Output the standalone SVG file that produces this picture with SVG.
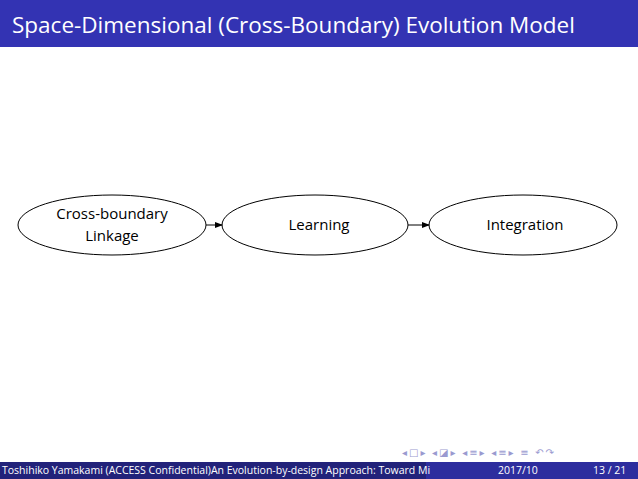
<svg xmlns="http://www.w3.org/2000/svg" width="638" height="479" viewBox="0 0 638 479">
<style>
text{font-family:"Open Sans","DejaVu Sans",sans-serif}
.n{fill:#fff;stroke:#000;stroke-width:1}
.l{font-size:15px;fill:#000;text-anchor:middle}
.e{stroke:#000;stroke-width:1;fill:none;marker-end:url(#a)}
.f{font-size:10.5px;fill:#fff}
</style>
<defs><marker id="a" markerWidth="8" markerHeight="6" refX="7" refY="3" orient="auto" markerUnits="userSpaceOnUse"><path d="M0,0L8,3L0,6z" fill="#000"/></marker></defs>
<rect width="638" height="479" fill="#fff"/>
<rect width="638" height="47" fill="#3333b3"/>
<text x="12" y="33" font-size="22.5" fill="#fff">Space-Dimensional (Cross-Boundary) Evolution Model</text>
<g id="n1"><ellipse class="n" cx="112" cy="225" rx="94" ry="30"/><text class="l" x="112" y="219">Cross-boundary</text><text class="l" x="112" y="241">Linkage</text></g>
<g id="n2"><ellipse class="n" cx="315" cy="225" rx="93" ry="30"/><text class="l" x="319" y="230">Learning</text></g>
<g id="n3"><ellipse class="n" cx="523" cy="225" rx="94" ry="30"/><text class="l" x="525" y="230">Integration</text></g>
<g id="edges"><path class="e" d="M206,225H222"/><path class="e" d="M408,225H429"/></g>
<g fill="#9a9ad0" font-size="10" font-family="DejaVu Sans,sans-serif" letter-spacing="2"><text x="402" y="456">◂□▸ ◂◪▸ ◂≡▸ ◂≡▸  ≡  ↶↷</text></g>
<rect y="462" width="426" height="17" fill="#22227a"/>
<rect x="426" y="462" width="212" height="17" fill="#2d2d9e"/>
<text class="f" x="2" y="474">Toshihiko Yamakami  (ACCESS Confidential)An Evolution-by-design Approach: Toward Mi</text>
<text class="f" x="498" y="474">2017/10</text>
<text class="f" x="593" y="474">13 / 21</text>
</svg>
